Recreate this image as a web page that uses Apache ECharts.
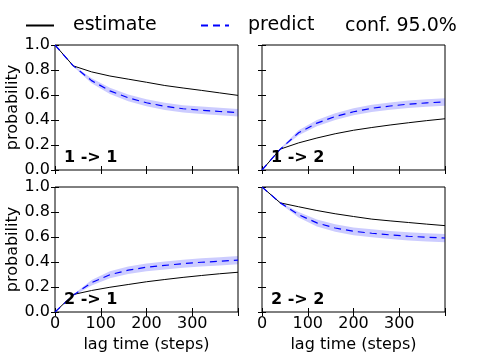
<!DOCTYPE html>
<html><head><meta charset="utf-8">
<script src="https://cdn.jsdelivr.net/npm/echarts@6/dist/echarts.min.js"></script>
<style>html,body{margin:0;padding:0;background:#fff}#c{width:477px;height:358px}</style>
</head><body><div id="c"></div>
<script>
// ---- data ----
const lags = [0, 40, 80, 120, 160, 200, 240, 280, 320, 360, 400];
const xTicks = [0, 100, 200, 300];
const yTicks = [0.0, 0.2, 0.4, 0.6, 0.8, 1.0];
const panelLabels = ['1 -> 1', '1 -> 2', '2 -> 1', '2 -> 2'];

const est11  = [1.0, 0.833, 0.785, 0.752, 0.727, 0.702, 0.676, 0.656, 0.637, 0.617, 0.597];
const pred11 = [1.0, 0.833, 0.715, 0.633, 0.578, 0.538, 0.510, 0.490, 0.478, 0.468, 0.459];
const conf11 = [0, 0.005, 0.020, 0.025, 0.027, 0.028, 0.029, 0.029, 0.030, 0.030, 0.030];

const est12  = [0.0, 0.167, 0.217, 0.256, 0.290, 0.318, 0.340, 0.360, 0.378, 0.395, 0.410];
const pred12 = [0.0, 0.167, 0.298, 0.375, 0.428, 0.466, 0.494, 0.512, 0.527, 0.537, 0.545];
const conf12 = [0, 0.005, 0.020, 0.025, 0.027, 0.028, 0.029, 0.029, 0.030, 0.030, 0.030];

const est21  = [0.0, 0.140, 0.172, 0.198, 0.220, 0.242, 0.260, 0.277, 0.292, 0.306, 0.318];
const pred21 = [0.0, 0.135, 0.235, 0.298, 0.335, 0.358, 0.373, 0.387, 0.398, 0.406, 0.415];
const conf21 = [0, 0.006, 0.022, 0.028, 0.030, 0.031, 0.032, 0.032, 0.033, 0.033, 0.033];

const est22  = [1.0, 0.873, 0.842, 0.812, 0.786, 0.764, 0.743, 0.729, 0.716, 0.703, 0.691];
const pred22 = [1.0, 0.873, 0.778, 0.713, 0.672, 0.646, 0.630, 0.617, 0.606, 0.598, 0.592];
const conf22 = [0, 0.006, 0.022, 0.028, 0.030, 0.031, 0.032, 0.032, 0.033, 0.033, 0.033];

const panels = [
  {est: est11, pred: pred11, conf: conf11},
  {est: est12, pred: pred12, conf: conf12},
  {est: est21, pred: pred21, conf: conf21},
  {est: est22, pred: pred22, conf: conf22}
];

// ---- layout / style ----
const FONT = 'DejaVu Sans';
const grids = [
  {left: 55, top: 45, width: 183, height: 125},
  {left: 262, top: 45, width: 183, height: 125},
  {left: 55, top: 187, width: 183, height: 125},
  {left: 262, top: 187, width: 183, height: 125}
];
const tick = {show: true, inside: true, length: 4, lineStyle: {color: '#000', width: 1}};

const xAxes = [], yAxes = [], series = [], titles = [];
grids.forEach((g, i) => {
  const bottomRow = i >= 2, leftCol = i % 2 === 0;
  xAxes.push({
    type: 'value', gridIndex: i, min: 0, max: 400, interval: 100, position: 'bottom',
    axisLine: {show: false}, axisTick: tick, splitLine: {show: false},
    axisLabel: {show: bottomRow, fontFamily: FONT, fontSize: 16, color: '#000', margin: 4,
      formatter: v => xTicks.includes(v) ? String(v) : ''},
    name: bottomRow ? 'lag time (steps)' : '', nameLocation: 'middle', nameGap: 25,
    nameTextStyle: {fontFamily: FONT, fontSize: 16, color: '#000'}
  });
  xAxes.push({
    type: 'value', gridIndex: i, min: 0, max: 400, interval: 100, position: 'top',
    axisLine: {show: false}, axisTick: tick, splitLine: {show: false}, axisLabel: {show: false}
  });
  yAxes.push({
    type: 'value', gridIndex: i, min: 0, max: 1, interval: 0.2, position: 'left',
    axisLine: {show: false}, axisTick: tick, splitLine: {show: false},
    axisLabel: {show: leftCol, fontFamily: FONT, fontSize: 16, color: '#000', margin: 5,
      formatter: v => yTicks.some(t => Math.abs(t - v) < 1e-9) ? v.toFixed(1) : ''},
    name: leftCol ? 'probability' : '', nameLocation: 'middle', nameGap: 34,
    nameTextStyle: {fontFamily: FONT, fontSize: 16, color: '#000'}
  });
  yAxes.push({
    type: 'value', gridIndex: i, min: 0, max: 1, interval: 0.2, position: 'right',
    axisLine: {show: false}, axisTick: tick, splitLine: {show: false}, axisLabel: {show: false}
  });

  const p = panels[i];
  const ax = {xAxisIndex: 2 * i, yAxisIndex: 2 * i};
  // confidence band: polygon through upper edge then lower edge, via the axis scales
  series.push(Object.assign({
    type: 'custom', name: 'conf. 95.0%', silent: true, coordinateSystem: 'cartesian2d',
    itemStyle: {color: 'rgba(0,0,255,0.2)'},
    data: lags.map((x, j) => [x, p.pred[j] - p.conf[j], p.pred[j] + p.conf[j]]),
    encode: {x: 0, y: [1, 2]},
    renderItem: (params, api) => {
      if (params.dataIndex !== 0) return null;
      const up = lags.map((x, j) => api.coord([x, p.pred[j] + p.conf[j]]));
      const lo = lags.map((x, j) => api.coord([x, p.pred[j] - p.conf[j]])).reverse();
      return {type: 'polygon', shape: {points: up.concat(lo)},
              style: {fill: 'rgba(0,0,255,0.2)', stroke: null}};
    }
  }, ax));
  series.push(Object.assign({
    type: 'line', name: 'estimate', symbol: 'none', showSymbol: false,
    lineStyle: {color: '#000', width: 1}, itemStyle: {color: '#000'},
    data: lags.map((x, j) => [x, p.est[j]])
  }, ax));
  series.push(Object.assign({
    type: 'line', name: 'predict', symbol: 'none', showSymbol: false,
    lineStyle: {color: '#0000ff', width: 1.2, type: [7, 5]}, itemStyle: {color: '#0000ff'},
    data: lags.map((x, j) => [x, p.pred[j]])
  }, ax));

  titles.push({
    text: panelLabels[i], left: g.left + 9, top: g.top + g.height - 20, padding: 0,
    textStyle: {fontFamily: FONT, fontSize: 16, fontWeight: 'bold', color: '#000'}
  });
});

const legendText = {fontFamily: FONT, fontSize: 19, color: '#000'};
const hideSym = {opacity: 0};
const option = {
  backgroundColor: '#fff',
  animation: false,
  title: titles,
  legend: [
    {data: [{name: 'estimate', itemStyle: hideSym}], left: 25, top: 16, padding: 0,
     itemWidth: 28, itemHeight: 20, textStyle: Object.assign({padding: [0, 0, 0, 14]}, legendText)},
    {data: [{name: 'predict', itemStyle: hideSym}], left: 200, top: 16, padding: 0,
     itemWidth: 28, itemHeight: 20, textStyle: Object.assign({padding: [0, 0, 0, 14]}, legendText)},
    {data: [{name: 'conf. 95.0%', itemStyle: hideSym}], left: 339, top: 16, padding: 0,
     itemWidth: 1, itemHeight: 20, textStyle: legendText}
  ],
  grid: grids.map(g => Object.assign({show: true, borderColor: '#000', borderWidth: 1,
    backgroundColor: 'transparent', containLabel: false}, g)),
  xAxis: xAxes,
  yAxis: yAxes,
  series: series
};
const chart = echarts.init(document.getElementById('c'), null, {renderer: 'canvas'});
chart.setOption(option);
</script>
</body></html>
